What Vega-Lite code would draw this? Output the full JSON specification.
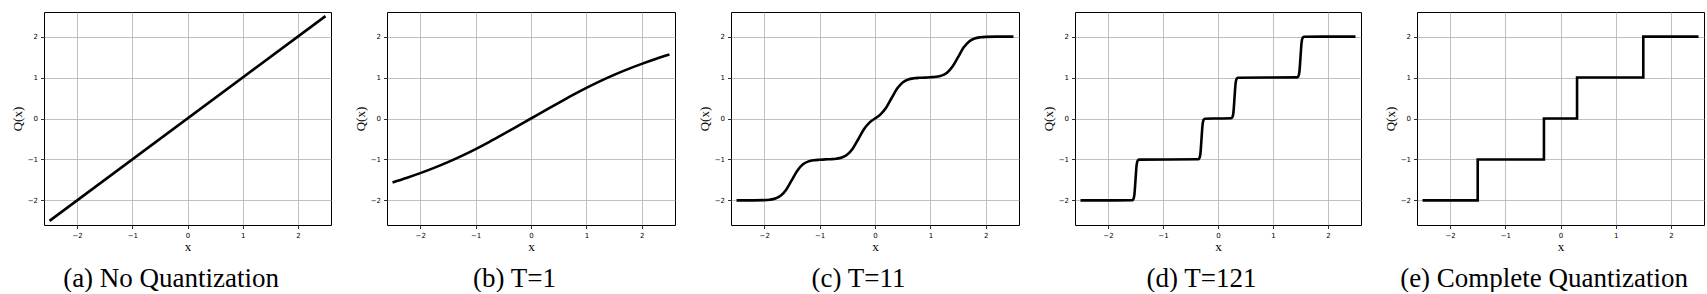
{
  "$schema": "https://vega.github.io/schema/vega-lite/v6.json",
  "autosize": {"type": "pad"},
  "padding": {"left": 10, "top": 10, "right": 0, "bottom": 0},
  "background": "white",
  "spacing": 56,
  "bounds": "flush",
  "datasets": {
    "a": [{"i": 0, "x": -2.5, "y": -2.5}, {"i": 1, "x": 2.5, "y": 2.5}],
    "b": [
      {"i": 0, "x": -2.5, "y": -1.56}, {"i": 1, "x": -2.25, "y": -1.452}, {"i": 2, "x": -2.0, "y": -1.334},
      {"i": 3, "x": -1.75, "y": -1.206}, {"i": 4, "x": -1.5, "y": -1.066}, {"i": 5, "x": -1.25, "y": -0.913},
      {"i": 6, "x": -1.0, "y": -0.747}, {"i": 7, "x": -0.75, "y": -0.569}, {"i": 8, "x": -0.5, "y": -0.382},
      {"i": 9, "x": -0.25, "y": -0.191}, {"i": 10, "x": 0, "y": 0}, {"i": 11, "x": 0.25, "y": 0.191},
      {"i": 12, "x": 0.5, "y": 0.382}, {"i": 13, "x": 0.75, "y": 0.569}, {"i": 14, "x": 1.0, "y": 0.747},
      {"i": 15, "x": 1.25, "y": 0.913}, {"i": 16, "x": 1.5, "y": 1.066}, {"i": 17, "x": 1.75, "y": 1.206},
      {"i": 18, "x": 2.0, "y": 1.334}, {"i": 19, "x": 2.25, "y": 1.452}, {"i": 20, "x": 2.5, "y": 1.56}
    ],
    "c": [
      {"i": 0, "x": -2.5, "y": -2.0}, {"i": 1, "x": -2.2, "y": -1.998}, {"i": 2, "x": -2.0, "y": -1.993},
      {"i": 3, "x": -1.9, "y": -1.982}, {"i": 4, "x": -1.8, "y": -1.953}, {"i": 5, "x": -1.7, "y": -1.881},
      {"i": 6, "x": -1.6, "y": -1.731}, {"i": 7, "x": -1.5, "y": -1.5}, {"i": 8, "x": -1.4, "y": -1.269},
      {"i": 9, "x": -1.3, "y": -1.119}, {"i": 10, "x": -1.2, "y": -1.047}, {"i": 11, "x": -1.1, "y": -1.018},
      {"i": 12, "x": -1.0, "y": -1.007}, {"i": 13, "x": -0.9, "y": -0.998}, {"i": 14, "x": -0.8, "y": -0.993},
      {"i": 15, "x": -0.7, "y": -0.982}, {"i": 16, "x": -0.6, "y": -0.953}, {"i": 17, "x": -0.5, "y": -0.881},
      {"i": 18, "x": -0.4, "y": -0.731}, {"i": 19, "x": -0.3, "y": -0.5}, {"i": 20, "x": -0.2, "y": -0.262},
      {"i": 21, "x": -0.1, "y": -0.1}, {"i": 22, "x": 0, "y": 0}, {"i": 23, "x": 0.1, "y": 0.1},
      {"i": 24, "x": 0.2, "y": 0.262}, {"i": 25, "x": 0.3, "y": 0.5}, {"i": 26, "x": 0.4, "y": 0.731},
      {"i": 27, "x": 0.5, "y": 0.881}, {"i": 28, "x": 0.6, "y": 0.953}, {"i": 29, "x": 0.7, "y": 0.982},
      {"i": 30, "x": 0.8, "y": 0.993}, {"i": 31, "x": 0.9, "y": 0.998}, {"i": 32, "x": 1.0, "y": 1.007},
      {"i": 33, "x": 1.1, "y": 1.018}, {"i": 34, "x": 1.2, "y": 1.047}, {"i": 35, "x": 1.3, "y": 1.119},
      {"i": 36, "x": 1.4, "y": 1.269}, {"i": 37, "x": 1.5, "y": 1.5}, {"i": 38, "x": 1.6, "y": 1.731},
      {"i": 39, "x": 1.7, "y": 1.881}, {"i": 40, "x": 1.8, "y": 1.953}, {"i": 41, "x": 1.9, "y": 1.982},
      {"i": 42, "x": 2.0, "y": 1.993}, {"i": 43, "x": 2.2, "y": 1.998}, {"i": 44, "x": 2.5, "y": 2.0}
    ],
    "d": [
      {"i": 0, "x": -2.5, "y": -2.0}, {"i": 1, "x": -1.56, "y": -1.995}, {"i": 2, "x": -1.54, "y": -1.973},
      {"i": 3, "x": -1.52, "y": -1.86}, {"i": 4, "x": -1.5, "y": -1.5}, {"i": 5, "x": -1.48, "y": -1.14},
      {"i": 6, "x": -1.46, "y": -1.027}, {"i": 7, "x": -1.44, "y": -1.005}, {"i": 8, "x": -0.36, "y": -0.995},
      {"i": 9, "x": -0.34, "y": -0.973}, {"i": 10, "x": -0.32, "y": -0.86}, {"i": 11, "x": -0.3, "y": -0.5},
      {"i": 12, "x": -0.28, "y": -0.14}, {"i": 13, "x": -0.26, "y": -0.027}, {"i": 14, "x": -0.24, "y": -0.005},
      {"i": 15, "x": 0, "y": 0}, {"i": 16, "x": 0.24, "y": 0.005}, {"i": 17, "x": 0.26, "y": 0.027},
      {"i": 18, "x": 0.28, "y": 0.14}, {"i": 19, "x": 0.3, "y": 0.5}, {"i": 20, "x": 0.32, "y": 0.86},
      {"i": 21, "x": 0.34, "y": 0.973}, {"i": 22, "x": 0.36, "y": 0.995}, {"i": 23, "x": 1.44, "y": 1.005},
      {"i": 24, "x": 1.46, "y": 1.027}, {"i": 25, "x": 1.48, "y": 1.14}, {"i": 26, "x": 1.5, "y": 1.5},
      {"i": 27, "x": 1.52, "y": 1.86}, {"i": 28, "x": 1.54, "y": 1.973}, {"i": 29, "x": 1.56, "y": 1.995},
      {"i": 30, "x": 2.5, "y": 2.0}
    ],
    "e": [
      {"i": 0, "x": -2.5, "y": -2}, {"i": 1, "x": -1.5, "y": -2}, {"i": 2, "x": -1.5, "y": -1},
      {"i": 3, "x": -0.3, "y": -1}, {"i": 4, "x": -0.3, "y": 0}, {"i": 5, "x": 0.3, "y": 0},
      {"i": 6, "x": 0.3, "y": 1}, {"i": 7, "x": 1.5, "y": 1}, {"i": 8, "x": 1.5, "y": 2},
      {"i": 9, "x": 2.5, "y": 2}
    ]
  },
  "hconcat": [
    {
      "width": 287, "height": 213,
      "title": "(a) No Quantization",
      "data": {"name": "a"},
      "mark": {"type": "line"},
      "encoding": {
        "x": {"field": "x", "type": "quantitative", "scale": {"domain": [-2.6, 2.6], "nice": false, "zero": false}, "axis": {"values": [-2, -1, 0, 1, 2], "title": "x"}},
        "y": {"field": "y", "type": "quantitative", "scale": {"domain": [-2.6, 2.6], "nice": false, "zero": false}, "axis": {"values": [-2, -1, 0, 1, 2], "title": "Q(x)"}},
        "order": {"field": "i", "type": "quantitative"}
      }
    },
    {
      "width": 288, "height": 213,
      "title": "(b) T=1",
      "data": {"name": "b"},
      "mark": {"type": "line", "interpolate": "monotone"},
      "encoding": {
        "x": {"field": "x", "type": "quantitative", "scale": {"domain": [-2.6, 2.6], "nice": false, "zero": false}, "axis": {"values": [-2, -1, 0, 1, 2], "title": "x"}},
        "y": {"field": "y", "type": "quantitative", "scale": {"domain": [-2.6, 2.6], "nice": false, "zero": false}, "axis": {"values": [-2, -1, 0, 1, 2], "title": "Q(x)"}},
        "order": {"field": "i", "type": "quantitative"}
      }
    },
    {
      "width": 288, "height": 213,
      "title": "(c) T=11",
      "data": {"name": "c"},
      "mark": {"type": "line", "interpolate": "monotone"},
      "encoding": {
        "x": {"field": "x", "type": "quantitative", "scale": {"domain": [-2.6, 2.6], "nice": false, "zero": false}, "axis": {"values": [-2, -1, 0, 1, 2], "title": "x"}},
        "y": {"field": "y", "type": "quantitative", "scale": {"domain": [-2.6, 2.6], "nice": false, "zero": false}, "axis": {"values": [-2, -1, 0, 1, 2], "title": "Q(x)"}},
        "order": {"field": "i", "type": "quantitative"}
      }
    },
    {
      "width": 286, "height": 213,
      "title": "(d) T=121",
      "data": {"name": "d"},
      "mark": {"type": "line", "interpolate": "monotone"},
      "encoding": {
        "x": {"field": "x", "type": "quantitative", "scale": {"domain": [-2.6, 2.6], "nice": false, "zero": false}, "axis": {"values": [-2, -1, 0, 1, 2], "title": "x"}},
        "y": {"field": "y", "type": "quantitative", "scale": {"domain": [-2.6, 2.6], "nice": false, "zero": false}, "axis": {"values": [-2, -1, 0, 1, 2], "title": "Q(x)"}},
        "order": {"field": "i", "type": "quantitative"}
      }
    },
    {
      "width": 287, "height": 213,
      "title": "(e) Complete Quantization",
      "data": {"name": "e"},
      "mark": {"type": "line"},
      "encoding": {
        "x": {"field": "x", "type": "quantitative", "scale": {"domain": [-2.6, 2.6], "nice": false, "zero": false}, "axis": {"values": [-2, -1, 0, 1, 2], "title": "x"}},
        "y": {"field": "y", "type": "quantitative", "scale": {"domain": [-2.6, 2.6], "nice": false, "zero": false}, "axis": {"values": [-2, -1, 0, 1, 2], "title": "Q(x)"}},
        "order": {"field": "i", "type": "quantitative"}
      }
    }
  ],
  "config": {
    "view": {"stroke": "black", "strokeWidth": 1},
    "axis": {
      "grid": true, "gridColor": "#b0b0b0", "gridWidth": 0.8, "domain": false,
      "tickColor": "black", "tickSize": 3.5, "tickWidth": 0.8,
      "labelFont": "DejaVu Sans", "labelFontSize": 7, "labelColor": "black", "labelPadding": 3,
      "titleFont": "Liberation Serif", "titleFontSize": 13, "titleFontWeight": "normal", "titleColor": "black"
    },
    "axisX": {"titlePadding": 2},
    "axisY": {"titlePadding": 3},
    "title": {"font": "Liberation Serif", "fontSize": 27, "fontWeight": "normal", "color": "black", "orient": "bottom", "anchor": "middle", "frame": "bounds", "offset": 12},
    "line": {"color": "black", "strokeWidth": 2.6}
  }
}
